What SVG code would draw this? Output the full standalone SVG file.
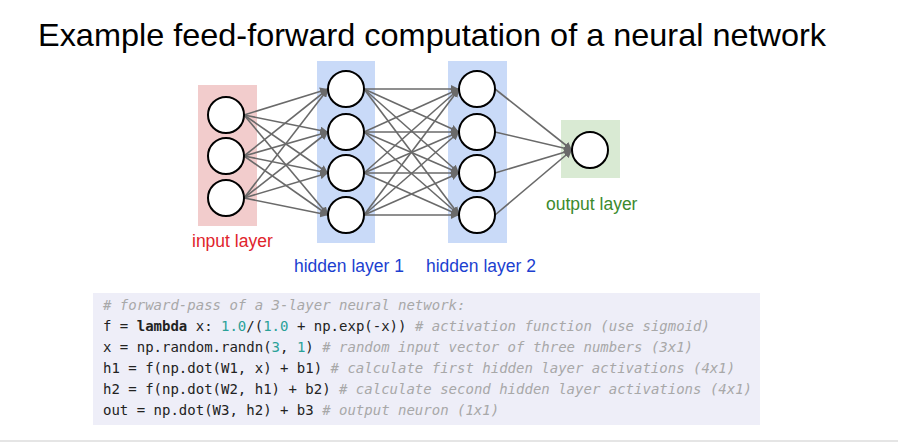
<svg xmlns="http://www.w3.org/2000/svg" width="898" height="443" viewBox="0 0 898 443">
<style>
.n{fill:#fff;stroke:#000;stroke-width:2}
.e{stroke:#6a6a6a;stroke-width:1.6;marker-end:url(#a)}
.lbl{font-family:"Liberation Sans",Arial,sans-serif;font-size:17.5px}
.code{font-family:"DejaVu Sans Mono",monospace;font-size:14px;fill:#222}
.c{fill:#a8a8a8;font-style:italic}
.k{font-weight:bold}
.num{fill:#2aa198}
</style>
<defs><marker id="a" viewBox="0 0 10 10" refX="10" refY="5" markerWidth="5" markerHeight="5" orient="auto" markerUnits="strokeWidth"><path d="M0,0L10,5L0,10z" fill="#6a6a6a"/></marker></defs>
<rect width="898" height="443" fill="#fff"/>
<text x="38" y="46" font-family="Liberation Sans,Arial,sans-serif" font-size="32" textLength="788" lengthAdjust="spacingAndGlyphs">Example feed-forward computation of a neural network</text>
<rect x="198" y="85" width="59" height="141" fill="#f2cccc"/>
<rect x="317" y="61" width="58" height="182" fill="#c9daf8"/>
<rect x="448" y="61" width="59" height="182" fill="#c9daf8"/>
<rect x="561" y="120" width="59" height="58" fill="#d9ead3"/>
<g id="connectors">
<line class="e" x1="244" y1="115" x2="328" y2="89"/><line class="e" x1="244" y1="115" x2="328" y2="132"/><line class="e" x1="244" y1="115" x2="328" y2="173"/><line class="e" x1="244" y1="115" x2="328" y2="215"/>
<line class="e" x1="244" y1="156" x2="328" y2="89"/><line class="e" x1="244" y1="156" x2="328" y2="132"/><line class="e" x1="244" y1="156" x2="328" y2="173"/><line class="e" x1="244" y1="156" x2="328" y2="215"/>
<line class="e" x1="244" y1="198" x2="328" y2="89"/><line class="e" x1="244" y1="198" x2="328" y2="132"/><line class="e" x1="244" y1="198" x2="328" y2="173"/><line class="e" x1="244" y1="198" x2="328" y2="215"/>
<line class="e" x1="364" y1="89" x2="459" y2="89"/><line class="e" x1="364" y1="89" x2="459" y2="132"/><line class="e" x1="364" y1="89" x2="459" y2="173"/><line class="e" x1="364" y1="89" x2="459" y2="215"/>
<line class="e" x1="364" y1="132" x2="459" y2="89"/><line class="e" x1="364" y1="132" x2="459" y2="132"/><line class="e" x1="364" y1="132" x2="459" y2="173"/><line class="e" x1="364" y1="132" x2="459" y2="215"/>
<line class="e" x1="364" y1="173" x2="459" y2="89"/><line class="e" x1="364" y1="173" x2="459" y2="132"/><line class="e" x1="364" y1="173" x2="459" y2="173"/><line class="e" x1="364" y1="173" x2="459" y2="215"/>
<line class="e" x1="364" y1="215" x2="459" y2="89"/><line class="e" x1="364" y1="215" x2="459" y2="132"/><line class="e" x1="364" y1="215" x2="459" y2="173"/><line class="e" x1="364" y1="215" x2="459" y2="215"/>
<line class="e" x1="495" y1="89" x2="572" y2="150"/><line class="e" x1="495" y1="132" x2="572" y2="150"/><line class="e" x1="495" y1="173" x2="572" y2="150"/><line class="e" x1="495" y1="215" x2="572" y2="150"/>
</g>
<g id="input"><circle class="n" cx="226" cy="115" r="18"/><circle class="n" cx="226" cy="156" r="18"/><circle class="n" cx="226" cy="198" r="18"/><text class="lbl" x="192" y="247" fill="#e0242c">input layer</text></g>
<g id="hidden1"><circle class="n" cx="346" cy="89" r="18"/><circle class="n" cx="346" cy="132" r="18"/><circle class="n" cx="346" cy="173" r="18"/><circle class="n" cx="346" cy="215" r="18"/><text class="lbl" x="294" y="272" fill="#1c3fd0">hidden layer 1</text></g>
<g id="hidden2"><circle class="n" cx="477" cy="89" r="18"/><circle class="n" cx="477" cy="132" r="18"/><circle class="n" cx="477" cy="173" r="18"/><circle class="n" cx="477" cy="215" r="18"/><text class="lbl" x="426" y="272" fill="#1c3fd0">hidden layer 2</text></g>
<g id="output"><circle class="n" cx="590" cy="150" r="18"/><text class="lbl" x="546" y="210" fill="#3c8a2e">output layer</text></g>
<g id="code">
<rect x="93" y="293" width="667" height="132" fill="#eeeef8"/>
<text class="code" x="103" y="310"><tspan class="c"># forward-pass of a 3-layer neural network:</tspan></text>
<text class="code" x="103" y="331">f = <tspan class="k">lambda</tspan> x: <tspan class="num">1.0</tspan>/(<tspan class="num">1.0</tspan> + np.exp(-x)) <tspan class="c"># activation function (use sigmoid)</tspan></text>
<text class="code" x="103" y="352">x = np.random.randn(<tspan class="num">3</tspan>, <tspan class="num">1</tspan>) <tspan class="c"># random input vector of three numbers (3x1)</tspan></text>
<text class="code" x="103" y="373">h1 = f(np.dot(W1, x) + b1) <tspan class="c"># calculate first hidden layer activations (4x1)</tspan></text>
<text class="code" x="103" y="394">h2 = f(np.dot(W2, h1) + b2) <tspan class="c"># calculate second hidden layer activations (4x1)</tspan></text>
<text class="code" x="103" y="415">out = np.dot(W3, h2) + b3 <tspan class="c"># output neuron (1x1)</tspan></text>
</g>
<line x1="0" y1="441" x2="898" y2="441" stroke="#ddd" stroke-width="1.5"/>
</svg>
